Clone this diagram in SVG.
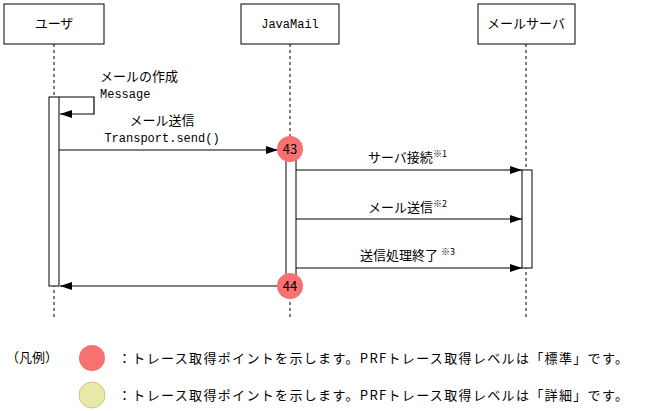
<svg xmlns="http://www.w3.org/2000/svg" width="658" height="411" viewBox="0 0 658 411">
<style>
text{font-family:"Noto Sans CJK JP","DejaVu Sans",sans-serif;font-size:13px;fill:#000}
.m{font-family:"Liberation Mono","DejaVu Sans Mono",monospace;font-size:12px}
.box{fill:#fff;stroke:#000;stroke-width:1}
.life{stroke:#000;stroke-dasharray:3,3}
.ln{stroke:#000;stroke-width:1.2;fill:none}
.sup{font-size:9px}
</style>
<defs><marker id="a" markerWidth="12" markerHeight="8" refX="12" refY="4" orient="auto" markerUnits="userSpaceOnUse"><path d="M0,0L12,4L0,8z" fill="#000"/></marker></defs>
<g id="lifelines">
<line class="life" x1="54" y1="44" x2="54" y2="320"/>
<line class="life" x1="290" y1="44" x2="290" y2="320"/>
<line class="life" x1="526" y1="44" x2="526" y2="320"/>
</g>
<g id="user"><rect class="box" x="4" y="4" width="100" height="40"/><text x="54" y="28" text-anchor="middle">ユーザ</text></g>
<g id="javamail"><rect class="box" x="241" y="4" width="98" height="40"/><text class="m" x="290" y="28" text-anchor="middle">JavaMail</text></g>
<g id="server"><rect class="box" x="478" y="4" width="97" height="40"/><text x="526" y="28" text-anchor="middle">メールサーバ</text></g>
<g id="activations">
<rect class="box" x="49" y="97" width="10" height="189"/>
<rect class="box" x="286" y="160" width="10" height="126"/>
<rect class="box" x="522" y="170" width="10" height="98"/>
</g>
<g id="connectors">
<path class="ln" d="M59,97H94V114H60" marker-end="url(#a)"/>
<line class="ln" x1="59" y1="150" x2="278" y2="150" marker-end="url(#a)"/>
<line class="ln" x1="296" y1="170" x2="522" y2="170" marker-end="url(#a)"/>
<line class="ln" x1="296" y1="219" x2="522" y2="219" marker-end="url(#a)"/>
<line class="ln" x1="296" y1="268" x2="522" y2="268" marker-end="url(#a)"/>
<line class="ln" x1="277" y1="286" x2="60" y2="286" marker-end="url(#a)"/>
</g>
<g id="labels">
<text x="100" y="81">メールの作成</text>
<text class="m" x="100" y="98">Message</text>
<text x="162" y="125" text-anchor="middle">メール送信</text>
<text class="m" x="162" y="142" text-anchor="middle">Transport.send()</text>
<text x="368" y="162">サーバ接続<tspan class="sup" dy="-5">※1</tspan></text>
<text x="368" y="212">メール送信<tspan class="sup" dy="-5">※2</tspan></text>
<text x="360" y="260">送信処理終了<tspan class="sup" dy="-5" dx="3">※3</tspan></text>
</g>
<g id="p43"><circle cx="290" cy="149" r="13" fill="#f87171"/><text x="290" y="154" text-anchor="middle" font-size="12">43</text></g>
<g id="p44"><circle cx="290" cy="286" r="13" fill="#f87171"/><text x="290" y="291" text-anchor="middle" font-size="12">44</text></g>
<g id="legend">
<text x="6" y="362">（凡例）</text>
<circle cx="92" cy="358" r="13" fill="#f87171"/>
<text x="118" y="363" textLength="510" lengthAdjust="spacing">：トレース取得ポイントを示します。PRFトレース取得レベルは「標準」です。</text>
<circle cx="92" cy="395" r="13" fill="#e8e8a8" stroke="#c8c890"/>
<text x="118" y="400" textLength="510" lengthAdjust="spacing">：トレース取得ポイントを示します。PRFトレース取得レベルは「詳細」です。</text>
</g>
</svg>
